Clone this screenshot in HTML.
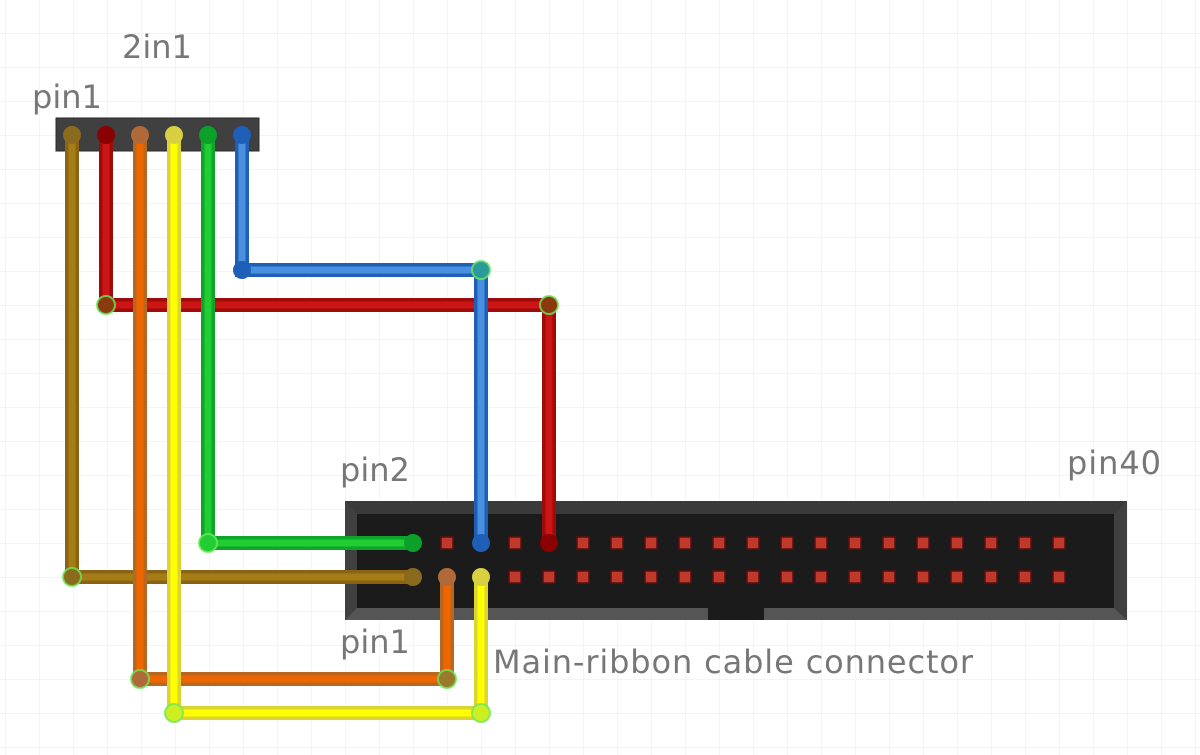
<!DOCTYPE html>
<html><head><meta charset="utf-8"><style>
html,body{margin:0;padding:0;background:#fff;}
svg{display:block;}
text{font-family:"DejaVu Sans","Liberation Sans",sans-serif;font-size:32px;fill:#777;}
</style></head><body>
<svg width="1200" height="755" viewBox="0 0 1200 755" xmlns="http://www.w3.org/2000/svg">
<defs>
<pattern id="g" x="5" y="-1" width="34" height="34" patternUnits="userSpaceOnUse">
<path d="M0 0H34M0 0V34" stroke="#eef0f4" stroke-width="1.5" fill="none"/>
</pattern>
</defs>
<rect width="1200" height="755" fill="url(#g)"/>

<rect x="345" y="501" width="782" height="119" fill="#404040"/>
<rect x="357" y="514" width="757" height="94" fill="#1b1b1b"/>
<polygon points="345,501 1127,501 1114,514 357,514" fill="#3a3a3a"/>
<polygon points="357,608 1114,608 1127,620 345,620" fill="#555"/>
<rect x="708" y="600" width="56" height="20" fill="#1b1b1b"/>
<g fill="#c0392b" stroke="#5a1010" stroke-width="1.5">
<rect x="441" y="537" width="12" height="12"/>
<rect x="509" y="537" width="12" height="12"/>
<rect x="577" y="537" width="12" height="12"/><rect x="611" y="537" width="12" height="12"/><rect x="645" y="537" width="12" height="12"/><rect x="679" y="537" width="12" height="12"/><rect x="713" y="537" width="12" height="12"/><rect x="747" y="537" width="12" height="12"/><rect x="781" y="537" width="12" height="12"/><rect x="815" y="537" width="12" height="12"/><rect x="849" y="537" width="12" height="12"/><rect x="883" y="537" width="12" height="12"/><rect x="917" y="537" width="12" height="12"/><rect x="951" y="537" width="12" height="12"/><rect x="985" y="537" width="12" height="12"/><rect x="1019" y="537" width="12" height="12"/><rect x="1053" y="537" width="12" height="12"/>
<rect x="509" y="571" width="12" height="12"/><rect x="543" y="571" width="12" height="12"/><rect x="577" y="571" width="12" height="12"/><rect x="611" y="571" width="12" height="12"/><rect x="645" y="571" width="12" height="12"/><rect x="679" y="571" width="12" height="12"/><rect x="713" y="571" width="12" height="12"/><rect x="747" y="571" width="12" height="12"/><rect x="781" y="571" width="12" height="12"/><rect x="815" y="571" width="12" height="12"/><rect x="849" y="571" width="12" height="12"/><rect x="883" y="571" width="12" height="12"/><rect x="917" y="571" width="12" height="12"/><rect x="951" y="571" width="12" height="12"/><rect x="985" y="571" width="12" height="12"/><rect x="1019" y="571" width="12" height="12"/><rect x="1053" y="571" width="12" height="12"/>
</g>

<rect x="56" y="118" width="203" height="33" fill="#404040" stroke="#2a2a2a" stroke-width="1"/>

<g fill="none" stroke-linejoin="miter" stroke-linecap="butt">
<path d="M72 135V577H413" stroke="#8a6414" stroke-width="14"/>
<path d="M72 135V577H413" stroke="#a57d17" stroke-width="7"/>
<path d="M106 135V305H549V543" stroke="#9e0b0b" stroke-width="14"/>
<path d="M106 135V305H549V543" stroke="#cc1515" stroke-width="7"/>
<path d="M140 135V679H447V577" stroke="#b8671f" stroke-width="14"/>
<path d="M140 135V679H447V577" stroke="#ee6600" stroke-width="7"/>
<path d="M174 135V713H481V577" stroke="#dcd431" stroke-width="14"/>
<path d="M174 135V713H481V577" stroke="#ffff00" stroke-width="7"/>
<path d="M208 135V543H413" stroke="#0ea52a" stroke-width="14"/>
<path d="M208 135V543H413" stroke="#22cc33" stroke-width="7"/>
<path d="M242 135V270H481V543" stroke="#1e5fb8" stroke-width="14"/>
<path d="M242 135V270H481V543" stroke="#4a90e0" stroke-width="7"/>
</g>

<g>
<circle cx="72" cy="135" r="9" fill="#8a6a1c"/>
<circle cx="106" cy="135" r="9" fill="#8b0000"/>
<circle cx="140" cy="135" r="9" fill="#b06a3a"/>
<circle cx="174" cy="135" r="9" fill="#d8d040"/>
<circle cx="208" cy="135" r="9" fill="#0aa02a"/>
<circle cx="242" cy="135" r="9" fill="#1e5fb8"/>

<circle cx="413" cy="577" r="9" fill="#8a6a1c"/>
<circle cx="549" cy="543" r="9" fill="#8b0000"/>
<circle cx="447" cy="577" r="9" fill="#b06a3a"/>
<circle cx="481" cy="577" r="9" fill="#d8d040"/>
<circle cx="413" cy="543" r="9" fill="#0aa02a"/>
<circle cx="481" cy="543" r="9" fill="#1e5fb8"/>

<g stroke="#6be85a" stroke-width="2" stroke-opacity="0.8">
<circle cx="72" cy="577" r="9" fill="#8a6a1c"/>
<circle cx="106" cy="305" r="9" fill="#8b3a10"/>
<circle cx="549" cy="305" r="9" fill="#8b3a10"/>
<circle cx="140" cy="679" r="9" fill="#b06a3a"/>
<circle cx="447" cy="679" r="9" fill="#9a7a2a"/>
<circle cx="174" cy="713" r="9" fill="#ccee22"/>
<circle cx="481" cy="713" r="9" fill="#ccee22"/>
<circle cx="208" cy="543" r="9" fill="#22cc33"/>
<circle cx="242" cy="270" r="9" fill="#1e5fb8" stroke="none"/>
<circle cx="481" cy="270" r="9" fill="#2a9a9a"/>
</g>
</g>

<text x="122" y="58">2in1</text>
<text x="32" y="108">pin1</text>
<text x="340" y="481">pin2</text>
<text x="1067" y="474" textLength="94">pin40</text>
<text x="340" y="653">pin1</text>
<text x="493" y="673" textLength="480">Main-ribbon cable connector</text>
</svg>
</body></html>
